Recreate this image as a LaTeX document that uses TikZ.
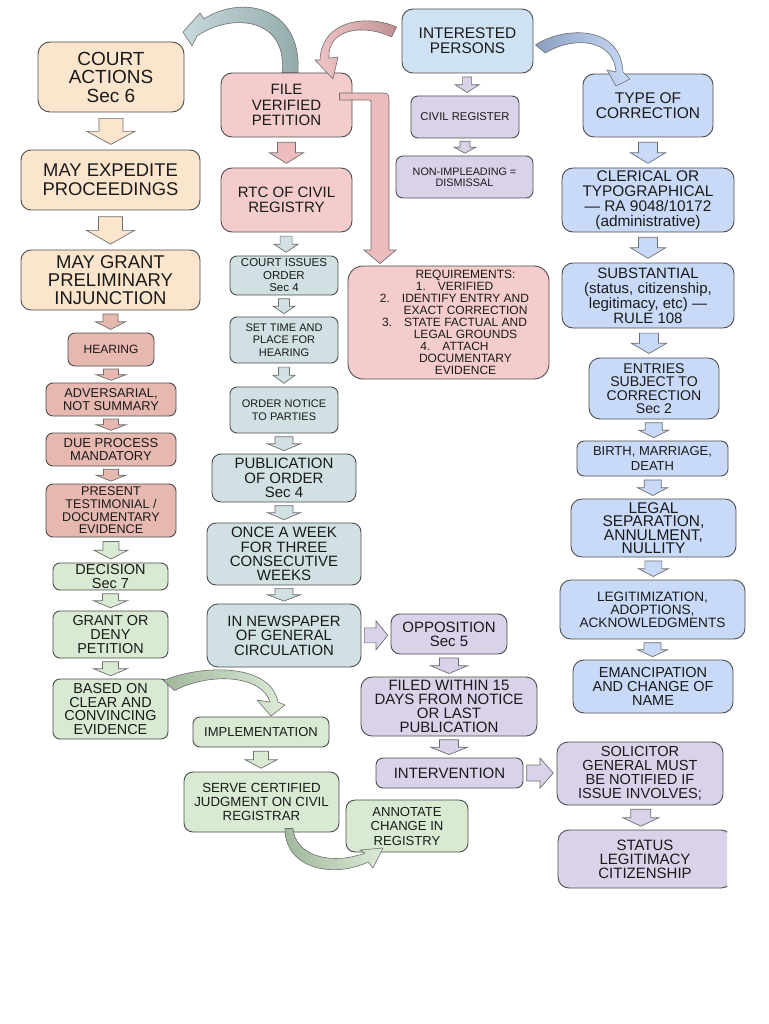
\documentclass[tikz,border=0pt]{standalone}
\usepackage{fontspec}
\setmainfont{Liberation Sans}
\usetikzlibrary{calc}
\definecolor{orangeF}{HTML}{FCE5CD}
\definecolor{pinkF}{HTML}{F4CCCC}
\definecolor{pinkA}{HTML}{EDBDBD}
\definecolor{salmonF}{HTML}{E6B8AF}
\definecolor{greenF}{HTML}{D9EAD3}
\definecolor{tealF}{HTML}{D0E0E3}
\definecolor{lavF}{HTML}{D9D2E9}
\definecolor{blueF}{HTML}{C9DAF8}
\definecolor{ipF}{HTML}{CFE2F3}
\definecolor{bordC}{HTML}{4D4D4D}
\definecolor{arrC}{HTML}{6E6E6E}
\definecolor{textC}{HTML}{1A1A1A}
\definecolor{tealL}{HTML}{C6D9DC}
\definecolor{tealD}{HTML}{93A9A9}
\definecolor{pinkL}{HTML}{F2C6C6}
\definecolor{pinkD}{HTML}{C09294}
\definecolor{blueL}{HTML}{CADBF7}
\definecolor{blueD}{HTML}{8A9FC0}
\definecolor{greenL}{HTML}{DCEBD6}
\definecolor{greenD}{HTML}{A0B89B}
\newcommand\fs[2]{\fontsize{#1}{#2}\selectfont}
% down block arrow between two named nodes
\newcommand\BlkDown[5]{%
  \draw[#1] let \p1=($(#2.south)!0.16!(#3.north)$), \p2=($(#2.south)!0.86!(#3.north)$), \n1={0.5*(\y1-\y2)} in
  (\x1-#4pt,\y1) -- (\x1+#4pt,\y1) -- (\x1+#4pt,\y2+\n1) -- (\x1+#5pt,\y2+\n1) -- (\x1,\y2)
  -- (\x1-#5pt,\y2+\n1) -- (\x1-#4pt,\y2+\n1) -- cycle;}
% right block arrow between two named nodes
\newcommand\BlkRight[5]{%
  \draw[#1] let \p1=($(#2.east)!0.1!(#3.west)$), \p2=($(#2.east)!0.9!(#3.west)$), \n1={0.5*(\x2-\x1)} in
  (\x1,\y1+#4pt) -- (\x2-\n1,\y1+#4pt) -- (\x2-\n1,\y1+#5pt) -- (\x2,\y1)
  -- (\x2-\n1,\y1-#5pt) -- (\x2-\n1,\y1-#4pt) -- (\x1,\y1-#4pt) -- cycle;}
\tikzset{
  nbox/.style={draw=bordC, line width=0.9pt, rounded corners=9pt, align=center, inner sep=0pt, text=textC},
  sbox/.style={nbox, rounded corners=7pt},
  arr/.style={draw=arrC, line width=0.7pt, line join=miter},
  curv/.style={draw=arrC, line width=0.6pt, line join=round},
}
\begin{document}
\begin{tikzpicture}[x=1pt,y=-1pt]
\useasboundingbox (0,0) rectangle (768,1024);
\fill[white] (0,0) rectangle (768,1024);

% ---------- left column ----------
\node[nbox, rounded corners=12pt, fill=orangeF, minimum width=146, minimum height=70, font=\fs{19}{18.5}] (ca) at (111,77) {COURT\\ACTIONS\\Sec 6};
\node[nbox, rounded corners=10pt, fill=orangeF, minimum width=179, minimum height=60, font=\fs{18.4}{18.5}] (mep) at (110.5,180) {MAY EXPEDITE\\PROCEEDINGS};
\node[nbox, rounded corners=10pt, fill=orangeF, minimum width=179, minimum height=60, font=\fs{18.5}{18}] (mgp) at (110.5,280) {MAY GRANT\\PRELIMINARY\\INJUNCTION};
\node[sbox, fill=salmonF, minimum width=86, minimum height=33, font=\fs{12}{13}] (hear) at (111,349.5) {HEARING};
\node[sbox, fill=salmonF, minimum width=130, minimum height=33, font=\fs{12.8}{13}] (adv) at (111,399.5) {ADVERSARIAL,\\NOT SUMMARY};
\node[sbox, fill=salmonF, minimum width=130, minimum height=33, font=\fs{13}{13}] (due) at (111,449.5) {DUE PROCESS\\MANDATORY};
\node[sbox, fill=salmonF, minimum width=130, minimum height=53, font=\fs{12.6}{12.6}] (pres) at (111,510.5) {PRESENT\\TESTIMONIAL /\\DOCUMENTARY\\EVIDENCE};
\node[sbox, fill=greenF, minimum width=115, minimum height=27, font=\fs{14.5}{14}] (dec) at (110.5,576.5) {DECISION\\Sec 7};
\node[sbox, fill=greenF, minimum width=115, minimum height=47, font=\fs{14.4}{14}] (grant) at (110.5,634.5) {GRANT OR\\DENY\\PETITION};
\node[sbox, fill=greenF, minimum width=115, minimum height=60, font=\fs{14.4}{13.8}] (based) at (110.5,709) {BASED ON\\CLEAR AND\\CONVINCING\\EVIDENCE};
\node[sbox, fill=greenF, minimum width=136, minimum height=30, font=\fs{13}{14}] (impl) at (261,732) {IMPLEMENTATION};
\node[nbox, fill=greenF, minimum width=155, minimum height=60, font=\fs{13.3}{14}] (serve) at (261.5,802) {SERVE CERTIFIED\\JUDGMENT ON CIVIL\\REGISTRAR};
\node[nbox, fill=greenF, minimum width=122, minimum height=52, font=\fs{13.1}{14.5}] (annot) at (407,826) {ANNOTATE\\CHANGE IN\\REGISTRY};

% ---------- middle column ----------
\node[nbox, rounded corners=11pt, fill=pinkF, minimum width=131, minimum height=64, font=\fs{15}{15.5}] (fvp) at (286.5,105) {FILE\\VERIFIED\\PETITION};
\node[nbox, rounded corners=11pt, fill=pinkF, minimum width=131, minimum height=64, font=\fs{15}{15}] (rtc) at (286.5,200) {RTC OF CIVIL\\REGISTRY};
\node[sbox, fill=tealF, minimum width=108, minimum height=39, font=\fs{11.5}{12.5}] (cio) at (284,275.5) {COURT ISSUES\\ORDER\\Sec 4};
\node[sbox, fill=tealF, minimum width=108, minimum height=46, font=\fs{11}{12.5}] (set) at (284,340) {SET TIME AND\\PLACE FOR\\HEARING};
\node[sbox, fill=tealF, minimum width=108, minimum height=46, font=\fs{11}{13}] (ont) at (284,410) {ORDER NOTICE\\TO PARTIES};
\node[nbox, fill=tealF, minimum width=144, minimum height=48, font=\fs{15}{14.5}] (pub) at (284,478) {PUBLICATION\\OF ORDER\\Sec 4};
\node[nbox, fill=tealF, minimum width=154, minimum height=62, font=\fs{15}{14.3}] (once) at (284,554) {ONCE A WEEK\\FOR THREE\\CONSECUTIVE\\WEEKS};
\node[nbox, rounded corners=11pt, fill=tealF, minimum width=154, minimum height=63, font=\fs{14.9}{14.5}] (news) at (284,635.5) {IN NEWSPAPER\\OF GENERAL\\CIRCULATION};

% ---------- centre column ----------
\node[nbox, rounded corners=11pt, fill=ipF, minimum width=131, minimum height=64, font=\fs{15.4}{15}] (ip) at (467.5,41) {INTERESTED\\PERSONS};
\node[sbox, fill=lavF, minimum width=108, minimum height=42, font=\fs{11.3}{12}] (cr) at (465,117) {CIVIL REGISTER};
\node[sbox, fill=lavF, minimum width=137, minimum height=42, font=\fs{10.8}{11}] (nid) at (464.5,177) {NON-IMPLEADING =\\DISMISSAL};
\node[nbox, rounded corners=15pt, fill=pinkF, minimum width=201, minimum height=113] (req) at (448.5,322.5) {};
\node[align=center, inner sep=0pt, text=textC, font=\fs{12}{12}] (reqtext) at ($(req.center)+(17,0)$)
 {REQUIREMENTS:\\\llap{1.\hspace{12pt}}VERIFIED\\\llap{2.\hspace{12pt}}IDENTIFY ENTRY AND\\EXACT CORRECTION\\\llap{3.\hspace{12pt}}STATE FACTUAL AND\\LEGAL GROUNDS\\\llap{4.\hspace{12pt}}ATTACH\\DOCUMENTARY\\EVIDENCE};
\node[nbox, fill=lavF, minimum width=116, minimum height=40, font=\fs{15}{14}] (opp) at (449,634) {OPPOSITION\\Sec 5};
\node[nbox, rounded corners=11pt, fill=lavF, minimum width=176, minimum height=59, font=\fs{15}{13.8}] (filed) at (449,706.5) {FILED WITHIN 15\\DAYS FROM NOTICE\\OR LAST\\PUBLICATION};
\node[sbox, fill=lavF, minimum width=147, minimum height=30, font=\fs{15}{14}] (inter) at (449.5,773) {INTERVENTION};
\node[nbox, rounded corners=11pt, fill=lavF, minimum width=166, minimum height=63, font=\fs{14.6}{13.8}] (sol) at (640,773.5) {SOLICITOR\\GENERAL MUST\\BE NOTIFIED IF\\ISSUE INVOLVES;};
\begin{scope}
\clip (0,0) rectangle (727,1024);
\node[nbox, rounded corners=11pt, fill=lavF, minimum width=174, minimum height=58, font=\fs{15}{14}] (stat) at (645,859) {STATUS\\LEGITIMACY\\CITIZENSHIP};
\end{scope}

% ---------- right column ----------
\node[nbox, rounded corners=11pt, fill=blueF, minimum width=130, minimum height=63, font=\fs{15.5}{15}] (toc) at (648,105.5) {TYPE OF\\CORRECTION};
\node[nbox, rounded corners=11pt, fill=blueF, minimum width=172, minimum height=64, font=\fs{15.4}{15}] (cler) at (648,200) {CLERICAL OR\\TYPOGRAPHICAL\\— RA 9048/10172\\(administrative)};
\node[nbox, rounded corners=11pt, fill=blueF, minimum width=172, minimum height=65, font=\fs{15}{15}] (subs) at (648,295.5) {SUBSTANTIAL\\(status, citizenship,\\legitimacy, etc) —\\RULE 108};
\node[nbox, rounded corners=11pt, fill=blueF, minimum width=130, minimum height=61, font=\fs{14.1}{13.5}] (ent) at (654,388.5) {ENTRIES\\SUBJECT TO\\CORRECTION\\Sec 2};
\node[sbox, fill=blueF, minimum width=151, minimum height=35, font=\fs{13}{14.5}] (bmd) at (652.5,458.5) {BIRTH, MARRIAGE,\\DEATH};
\node[nbox, rounded corners=11pt, fill=blueF, minimum width=165, minimum height=58, font=\fs{15.5}{13.5}] (leg) at (653.5,528) {LEGAL\\SEPARATION,\\ANNULMENT,\\NULLITY};
\node[nbox, rounded corners=11pt, fill=blueF, minimum width=185, minimum height=59, font=\fs{13.6}{13}] (legit) at (652.5,609.5) {LEGITIMIZATION,\\ADOPTIONS,\\ACKNOWLEDGMENTS};
\node[nbox, rounded corners=11pt, fill=blueF, minimum width=160, minimum height=53, font=\fs{14.5}{14}] (eman) at (653,686.5) {EMANCIPATION\\AND CHANGE OF\\NAME};

% ---------- block arrows ----------
\BlkDown{arr,fill=orangeF}{ca}{mep}{12}{24}
\BlkDown{arr,fill=orangeF}{mep}{mgp}{12}{24}
\BlkDown{arr,fill=salmonF}{mgp}{hear}{7.5}{15}
\BlkDown{arr,fill=salmonF}{hear}{adv}{7.5}{15}
\BlkDown{arr,fill=salmonF}{adv}{due}{7.5}{15}
\BlkDown{arr,fill=salmonF}{due}{pres}{7.5}{15}
\BlkDown{arr,fill=greenF}{pres}{dec}{8}{17}
\BlkDown{arr,fill=greenF}{dec}{grant}{8}{17}
\BlkDown{arr,fill=greenF}{grant}{based}{8}{17}
\BlkDown{arr,fill=greenF}{impl}{serve}{7.5}{16}
\BlkDown{arr,fill=pinkA}{fvp}{rtc}{9}{17}
\BlkDown{arr,fill=tealF}{rtc}{cio}{6}{12}
\BlkDown{arr,fill=tealF}{cio}{set}{5.5}{11}
\BlkDown{arr,fill=tealF}{set}{ont}{5.5}{11}
\BlkDown{arr,fill=tealF}{ont}{pub}{9}{16.5}
\BlkDown{arr,fill=tealF}{pub}{once}{9}{16.5}
\BlkDown{arr,fill=tealF}{once}{news}{9}{16.5}
\BlkDown{arr,fill=lavF}{ip}{cr}{4.5}{12}
\BlkDown{arr,fill=lavF}{cr}{nid}{5}{11}
\BlkDown{arr,fill=lavF}{opp}{filed}{9.5}{18.5}
\BlkDown{arr,fill=lavF}{filed}{inter}{9.5}{18.5}
\BlkDown{arr,fill=lavF}{sol}{stat}{10}{18}
\BlkRight{arr,fill=lavF}{news}{opp}{7.5}{14.5}
\BlkRight{arr,fill=lavF}{inter}{sol}{8}{15}
\BlkDown{arr,fill=blueF}{toc}{cler}{9.5}{17.5}
\BlkDown{arr,fill=blueF}{cler}{subs}{9.5}{17.5}
\BlkDown{arr,fill=blueF}{subs}{ent}{9.5}{17.5}
\BlkDown{arr,fill=blueF}{ent}{bmd}{8.5}{15}
\BlkDown{arr,fill=blueF}{bmd}{leg}{8.5}{15}
\BlkDown{arr,fill=blueF}{leg}{legit}{8.5}{15}
\BlkDown{arr,fill=blueF}{legit}{eman}{8.5}{15}

% bent arrow: petition -> requirements
\draw[arr, fill=pinkA] ($(fvp.east)+(-13,-12)$) -- (379,93) .. controls (389,93) .. (389,103)
  -- (389,250) -- (396,250) -- ($(req.north)+(-68.5,-2)$) -- (364,250) -- (371,250)
  -- (371,103) .. controls (371,100) .. (368,100) -- ($(fvp.east)+(-13,-5)$) -- cycle;

% ---------- curved arrows ----------
% petition -> court actions
\draw[curv, left color=tealL, right color=tealD] ($(fvp.north)+(11.5,0)$) .. controls (302,5) and (240,-5) .. (204,19)
  -- (200,13) -- (183,32) -- (192,46) -- (197,36) .. controls (232,12) and (288,18) .. ($(fvp.north)+(-4.5,0)$) -- cycle;
% interested persons -> petition
\draw[curv, left color=pinkL, right color=pinkD] ($(ip.west)+(-5,-14)$) .. controls (370,15) and (322,18) .. (320,60)
  -- (315,60) -- (333,79) -- (338,57) -- (329,58) .. controls (327,28) and (365,24) .. ($(ip.west)+(-10,-4)$) -- cycle;
% interested persons -> type of correction
\draw[curv, left color=blueD, right color=blueL] ($(ip.east)+(2,4)$) .. controls (560,28) and (620,22) .. (623,72)
  -- (630,79) -- (616,86) -- (607,70) -- (616,72) .. controls (614,40) and (575,35) .. ($(ip.east)+(12,12)$) -- cycle;
% based on evidence -> implementation
\draw[curv, left color=greenD, right color=greenL] ($(based.north east)+(-5,2)$) .. controls (200,665) and (270,662) .. (278,702)
  -- (285,705) -- (271,716) -- (257,700) -- (270,702) .. controls (262,675) and (210,672) .. ($(based.north east)+(6,12)$) -- cycle;
% serve judgment -> annotate
\draw[curv, left color=greenD, right color=greenL] ($(serve.south)+(23.5,-4)$) .. controls (285,870) and (335,878) .. (368,862)
  -- (373,868) -- (383,848) -- (360,850) -- (365,853) .. controls (330,866) and (295,855) .. ($(serve.south)+(31.5,-4)$) -- cycle;
\end{tikzpicture}
\end{document}
